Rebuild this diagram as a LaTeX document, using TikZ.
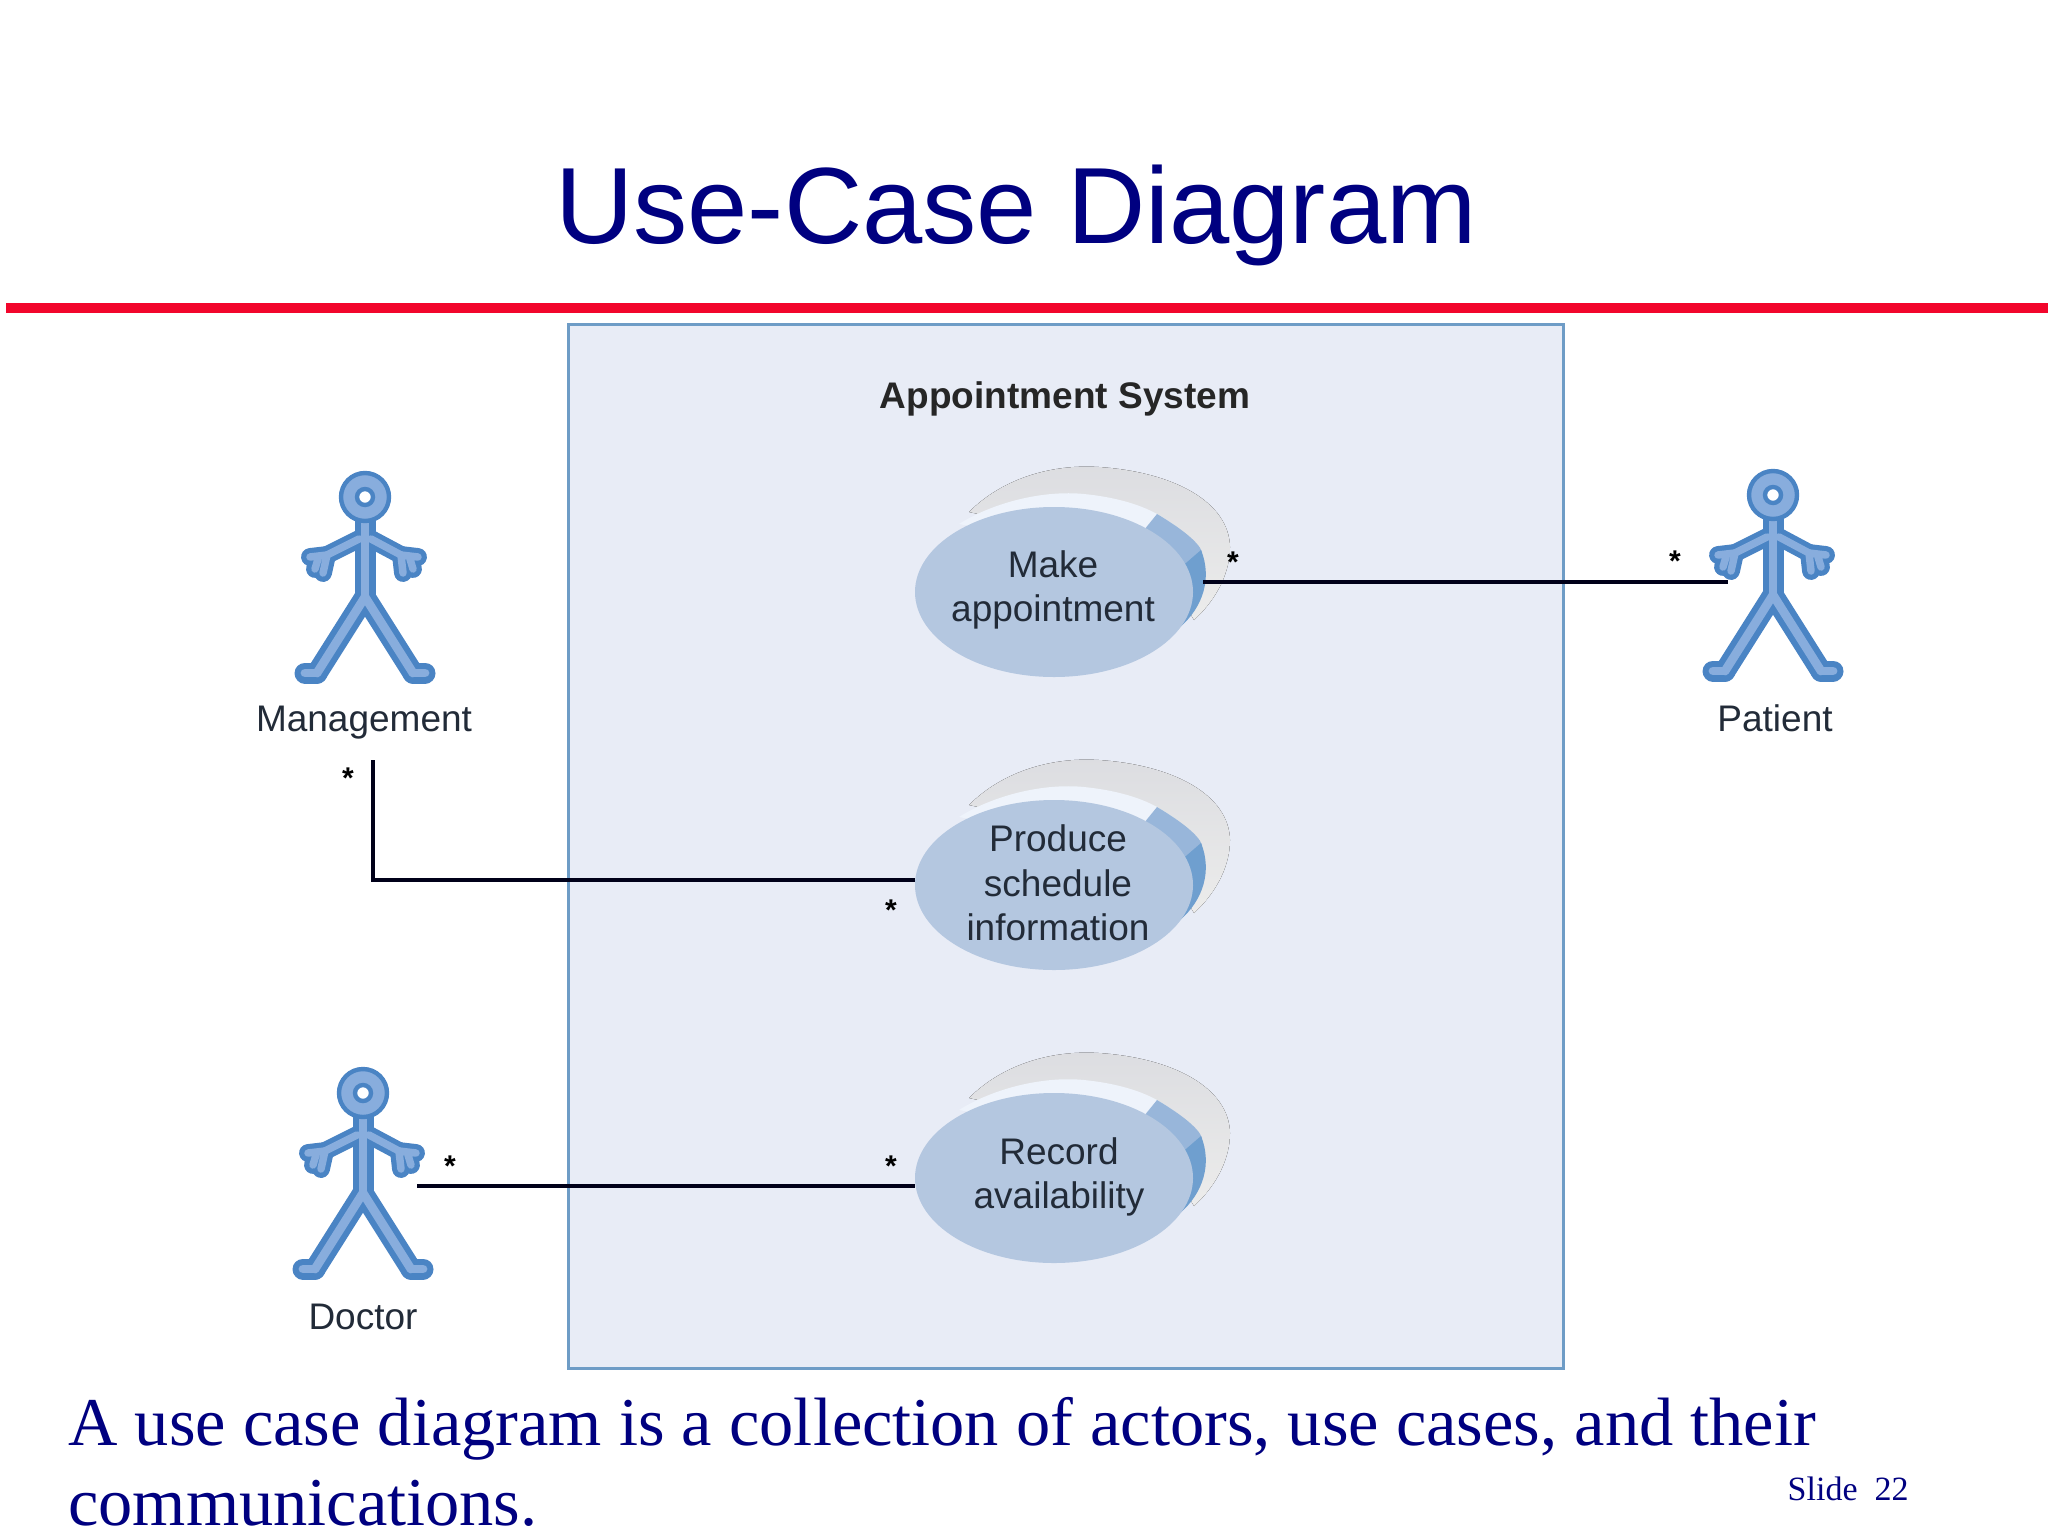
\documentclass[tikz,border=0pt]{standalone}
\usepackage{fontspec}
\setmainfont{Liberation Sans}
\newfontfamily\serifface{Liberation Serif}
\usetikzlibrary{shapes.geometric}
\definecolor{navy}{HTML}{000080}
\definecolor{slidered}{HTML}{F2062C}
\definecolor{sysfill}{HTML}{E8ECF6}
\definecolor{sysline}{HTML}{6E9CC6}
\definecolor{ucfill}{HTML}{B4C7E0}
\definecolor{ucmid}{HTML}{98B6DA}
\definecolor{ucdark}{HTML}{6F9FCF}
\definecolor{ucpale}{HTML}{EEF3FB}
\definecolor{ucgrey}{HTML}{DCDDE1}
\definecolor{ucgreyb}{HTML}{ECECEB}
\definecolor{actline}{HTML}{4A84C4}
\definecolor{actfill}{HTML}{88ADDD}
\definecolor{inktext}{HTML}{222B38}
\tikzset{
  x=0.5pt,y=-0.5pt,
  lbl/.style={font=\fontsize{18.5pt}{22.3pt}\selectfont,text=inktext,align=center,inner sep=0pt},
  ucase/.style={ellipse,fill=ucfill,minimum width=139pt,minimum height=85pt,inner sep=0pt},
  mult/.style={font=\bfseries\fontsize{15pt}{15pt}\selectfont,text=black,inner sep=0pt},
  conn/.style={line width=1.8pt,black!90!blue},
  limb/.style={line cap=round,line join=round},
  pics/actor/.style={code={
    \foreach \wid/\col in {10.5pt/actline,4.4pt/actfill}{
      \draw[limb,line width=\wid*0.85,color=\col] (-38,58)--(-6,42) (36,58)--(6,42);
      \draw[limb,line width=\wid*0.85,color=\col] (-55,60)--(-38,58)--(-42,76) (-47,62)--(-50,72) (53,60)--(36,58)--(38,76) (45,62)--(48,72);
      \draw[limb,line width=\wid,color=\col] (-48,176)--(-60,176) (48,176)--(60,176);
      \draw[limb,line width=\wid,color=\col] (0,100)--(-48,176) (0,100)--(48,176);
      \draw[limb,line width=\wid,color=\col] (0,25)--(0,102);
    }
    \draw[line width=2.2pt,actline,fill=actfill] (0,0) circle (24);
    \draw[line width=2.2pt,actline,fill=white] (0,0) circle (8);
  }},
  pics/shell/.style={code={
    \fill[top color=ucgrey,bottom color=ucgreyb] (-85,-80) .. controls (-50,-115) and (0,-128) .. (45,-125)
      .. controls (120,-120) and (175,-90) .. (176,-45)
      .. controls (176,-22) and (165,5) .. (140,28) -- (100,-40) -- cycle;
    \fill[ucpale] (-95,-68) .. controls (-60,-90) and (-10,-102) .. (30,-98)
      .. controls (60,-95) and (85,-88) .. (103,-78)
      .. controls (125,-65) and (145,-50) .. (148,-35) -- (100,-30) -- cycle;
    \fill[ucmid] (103,-78) .. controls (125,-65) and (145,-50) .. (148,-40) -- (110,-10) -- (90,-62) -- cycle;
    \fill[ucdark] (147,-42) .. controls (158,-15) and (150,15) .. (125,36) -- (110,-10) -- cycle;
  }}
}
\begin{document}
\begin{tikzpicture}
\useasboundingbox (0,0) rectangle (2048,1536);
\fill[white] (0,0) rectangle (2048,1536);
\node[font=\fontsize{54.2pt}{60pt}\selectfont,text=navy,inner sep=0pt] (title) at (1016,215) {Use-Case Diagram};
\coordinate (ruleL) at (6,308);
\coordinate (ruleR) at (2048,308);
\draw[slidered,line width=5pt] (ruleL) -- (ruleR);
\node[draw=sysline,fill=sysfill,line width=1.3pt,minimum width=497.5pt,minimum height=522pt,inner sep=0pt,anchor=north west] (system) at (567,323) {};
\node[font=\bfseries\fontsize{18.5pt}{22pt}\selectfont,text=black!85,inner sep=0pt] (systitle) at (1065,399) {Appointment System};

\pic at (1054,592) {shell};
\pic at (1054,885) {shell};
\pic at (1054,1178) {shell};
\node[ucase] (make) at (1054,592) {};
\node[ucase] (prod) at (1054,885) {};
\node[ucase] (rec) at (1054,1178) {};
\node[lbl] (maket) at (1053,590) {Make\\appointment};
\node[lbl] (prodt) at (1058,883) {Produce\\schedule\\information};
\node[lbl] (rect) at (1059,1177) {Record\\availability};

\pic at (365,497) {actor};
\pic at (1773,495) {actor};
\pic at (363,1093) {actor};
\node[lbl] (mgmt) at (364,723) {Management};
\node[lbl] (patient) at (1775,718) {Patient};
\node[lbl] (doctor) at (363,1317) {Doctor};
\coordinate (patienthand) at (1728,582);
\coordinate (doctorhand) at (417,1186);
\coordinate (mgmtfoot) at (373,760);

\draw[conn] ([shift={(10,-10)}]make.east) -- (patienthand);
\draw[conn] (mgmtfoot) |- ([yshift=2.5pt]prod.west);
\draw[conn] (doctorhand) -- (doctorhand -| rec.west);

\node[mult] (s1) at (1233,562) {*};
\node[mult] (s2) at (1675,561) {*};
\node[mult] (s3) at (348,778) {*};
\node[mult] (s4) at (891,910) {*};
\node[mult] (s5) at (450,1166) {*};
\node[mult] (s6) at (891,1166) {*};

\node[anchor=base west,inner sep=0pt,text=navy,font=\serifface\fontsize{34.2pt}{40pt}\selectfont] (cap1) at (68,1445) {A use case diagram is a collection of actors, use cases, and their};
\node[anchor=base west,inner sep=0pt,text=navy,font=\serifface\fontsize{34.2pt}{40pt}\selectfont] (cap2) at (68,1525) {communications.};
\node[anchor=base east,inner sep=0pt,text=navy,font=\serifface\fontsize{17pt}{20pt}\selectfont] (slide) at (1909,1500) {Slide\ \ 22};
\end{tikzpicture}
\end{document}
